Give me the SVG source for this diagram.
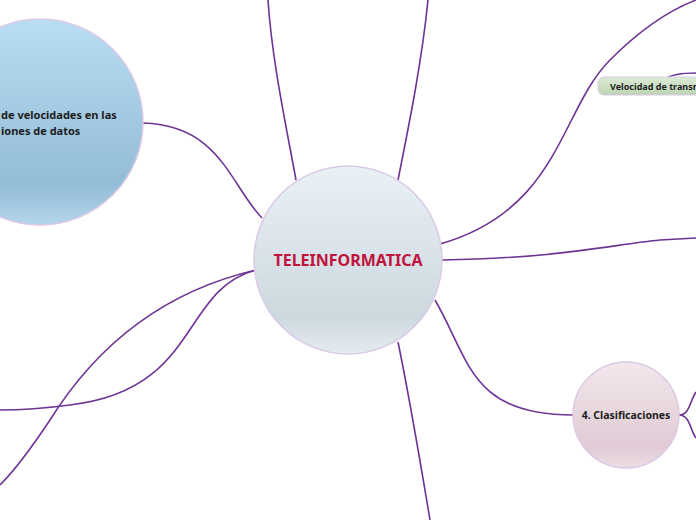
<svg xmlns="http://www.w3.org/2000/svg" width="696" height="520" viewBox="0 0 696 520">
<defs>
<linearGradient id="gc" x1="0" y1="0" x2="0" y2="1"><stop offset="0" stop-color="#e9f1f7"/><stop offset="0.8" stop-color="#cdd8df"/><stop offset="1" stop-color="#e4ecf1"/></linearGradient>
<linearGradient id="gb" x1="0" y1="0" x2="0" y2="1"><stop offset="0" stop-color="#b9def3"/><stop offset="0.8" stop-color="#93bcd6"/><stop offset="1" stop-color="#b3d6ec"/></linearGradient>
<linearGradient id="gp" x1="0" y1="0" x2="0" y2="1"><stop offset="0" stop-color="#f3e6ec"/><stop offset="0.8" stop-color="#e0cbd5"/><stop offset="1" stop-color="#ecdde4"/></linearGradient>
<linearGradient id="gg" x1="0" y1="0" x2="0" y2="1"><stop offset="0" stop-color="#dcebd6"/><stop offset="1" stop-color="#bcd4b3"/></linearGradient>
</defs>
<style>
.c{fill:none;stroke:#6e3394;stroke-width:1.6}
.t{font-family:"Noto Sans","Open Sans",sans-serif;font-weight:bold;fill:#1d1d1d}
</style>
<g id="connectors">
<path class="c" d="M296,180 C285,120 272,60 268,0"/>
<path class="c" d="M398,180 C410,120 422,60 428,0"/>
<path class="c" d="M440,244 C560,210 560,110 610,60 C640,30 670,10 696,0"/>
<path class="c" d="M665,79 C672,74 684,73 696,73"/>
<path class="c" d="M442,260 C560,258 610,245 660,240 L696,238"/>
<path class="c" d="M435,300 C470,360 470,415 573,415"/>
<path class="c" d="M679,415 C690,415 690,400 696,392 M679,415 C690,415 690,430 696,438"/>
<path class="c" d="M398,342 C410,400 420,460 430,520"/>
<path class="c" d="M262,218 C230,185 220,125 143,123"/>
<path class="c" d="M256,270 C180,290 200,390 70,405 C40,409 20,410 0,410"/>
<path class="c" stroke-width="2" d="M256,270 C170,290 100,340 50,420 C30,450 15,470 0,485"/>
</g>
<g id="n-center"><circle cx="348" cy="260" r="94" fill="url(#gc)" stroke="#dcc9e6" stroke-width="1.5"/><text x="348" y="266" text-anchor="middle" font-family="Noto Sans,sans-serif" font-weight="bold" font-size="16" fill="#c0143c">TELEINFORMATICA</text></g>
<g id="n-left"><circle cx="40" cy="122" r="103" fill="url(#gb)" stroke="#dcc9e6" stroke-width="1.5"/><text class="t" font-size="11"><tspan x="1" y="119">de velocidades en las</tspan><tspan x="1" y="135">iones de datos</tspan></text></g>
<g id="n-clas"><circle cx="626" cy="415" r="53" fill="url(#gp)" stroke="#dcc9e6" stroke-width="1.5"/><text class="t" x="626" y="419" text-anchor="middle" font-size="10.5">4. Clasificaciones</text></g>
<g id="n-vel"><rect x="598" y="77" width="110" height="18" rx="6" fill="url(#gg)" stroke="#dcc9e6"/><text class="t" x="610" y="90" font-size="9">Velocidad de transmisión</text></g>
</svg>
